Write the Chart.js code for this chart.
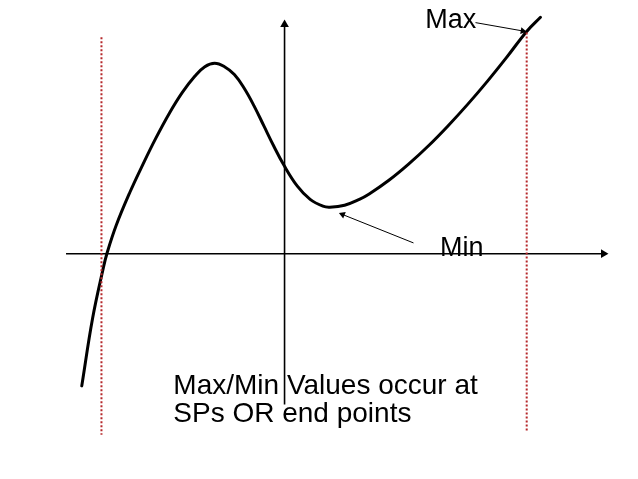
<!DOCTYPE html>
<html>
<head>
<meta charset="utf-8">
<script src="https://cdn.jsdelivr.net/npm/chart.js@4/dist/chart.umd.min.js"></script>
<style>
  html, body { margin: 0; padding: 0; background: #fff; }
  #wrap { width: 638px; height: 479px; }
</style>
</head>
<body>
<div id="wrap"><canvas id="graph" width="638" height="479"></canvas></div>
<script>
// Curve (x, y in graph units, origin where the axes cross)
var curveX = [-4.12, -3.90, -3.68, -3.61, -3.42, -3.14, -2.88, -2.62, -2.34, -2.08, -1.82, -1.62, -1.42, -1.22, -1.02, -0.82, -0.62, -0.42, -0.22, -0.02, 0.26, 0.52, 0.78, 0.92, 1.22, 1.52, 1.72, 2.12, 2.52, 2.92, 3.32, 3.72, 4.12, 4.52, 4.92, 5.20];
var curveY = [-2.70, -1.32, -0.28, 0.00, 0.58, 1.26, 1.82, 2.35, 2.87, 3.29, 3.63, 3.82, 3.89, 3.82, 3.66, 3.38, 3.02, 2.61, 2.20, 1.82, 1.38, 1.11, 0.97, 0.95, 0.99, 1.11, 1.22, 1.50, 1.83, 2.20, 2.61, 3.05, 3.52, 4.02, 4.54, 4.83];

// Axes
var xAxisX = [-4.44, 6.48];
var xAxisY = [0, 0];
var yAxisX = [0, 0];
var yAxisY = [-3.08, 4.68];

// End point boundaries (red dotted)
var leftEndX = [-3.72, -3.72];
var leftEndY = [4.42, -3.70];
var rightEndX = [4.92, 4.92];
var rightEndY = [4.52, -3.62];

// Label arrows
var maxArrowX = [3.88, 4.84];
var maxArrowY = [4.72, 4.55];
var minArrowX = [2.62, 1.18];
var minArrowY = [0.22, 0.80];

// Texts
var maxLabel = 'Max';
var minLabel = 'Min';
var noteLines = ['Max/Min Values occur at', 'SPs OR end points'];

function toPoints(xs, ys) {
    var pts = [];
    for (var i = 0; i < xs.length; i++) {
        pts.push({ x: xs[i], y: ys[i] });
    }
    return pts;
}

function lineSet(xs, ys, color, width, dash) {
    return {
        data: toPoints(xs, ys),
        showLine: true,
        fill: false,
        borderColor: color,
        borderWidth: width,
        borderDash: dash || [],
        pointRadius: 0,
        tension: 0
    };
}

function headSet(x, y, angle, size) {
    return {
        data: [{ x: x, y: y }],
        showLine: false,
        pointStyle: 'triangle',
        rotation: angle,
        pointRadius: size,
        backgroundColor: '#000',
        borderColor: '#000',
        borderWidth: 0
    };
}

var curveSet = lineSet(curveX, curveY, '#000', 3);
curveSet.tension = 0.4;
curveSet.borderCapStyle = 'round';
curveSet.borderJoinStyle = 'round';

// Draw the text labels at graph coordinates
var textPlugin = {
    id: 'textLabels',
    afterDatasetsDraw: function(chart) {
        var ctx = chart.ctx;
        var sx = chart.scales.x;
        var sy = chart.scales.y;
        ctx.save();
        ctx.fillStyle = '#000';
        ctx.textBaseline = 'alphabetic';
        ctx.textAlign = 'left';
        ctx.font = '27px "Liberation Sans", Arial, sans-serif';
        ctx.fillText(maxLabel, sx.getPixelForValue(2.86), sy.getPixelForValue(4.60));
        ctx.fillText(minLabel, sx.getPixelForValue(3.16), sy.getPixelForValue(-0.04));
        ctx.font = '28px "Liberation Sans", Arial, sans-serif';
        ctx.fillText(noteLines[0], sx.getPixelForValue(-2.26), sy.getPixelForValue(-2.87));
        ctx.fillText(noteLines[1], sx.getPixelForValue(-2.26), sy.getPixelForValue(-3.44));
        ctx.restore();
    }
};

var ctx = document.getElementById('graph').getContext('2d');

// line type (not scatter) so the curve gets its bezier control points
new Chart(ctx, {
    type: 'line',
    data: {
        datasets: [
            lineSet(leftEndX, leftEndY, '#b5282b', 2, [2, 2]),
            lineSet(rightEndX, rightEndY, '#b5282b', 2, [2, 2]),
            lineSet(xAxisX, xAxisY, '#000', 1.6),
            lineSet(yAxisX, yAxisY, '#000', 1.6),
            headSet(xAxisX[1], 0, 90, 5),
            headSet(0, yAxisY[1], 0, 5),
            lineSet(maxArrowX, maxArrowY, '#000', 1),
            lineSet(minArrowX, minArrowY, '#000', 1),
            headSet(maxArrowX[1], maxArrowY[1], 100, 4),
            headSet(minArrowX[1], minArrowY[1], 292, 4),
            curveSet
        ]
    },
    options: {
        responsive: false,
        animation: false,
        layout: { padding: 0 },
        plugins: {
            legend: { display: false },
            tooltip: { enabled: false }
        },
        scales: {
            x: { type: 'linear', display: false, min: -5.68, max: 7.08 },
            y: { type: 'linear', display: false, min: -4.50, max: 5.08 }
        }
    },
    plugins: [textPlugin]
});
</script>
</body>
</html>
